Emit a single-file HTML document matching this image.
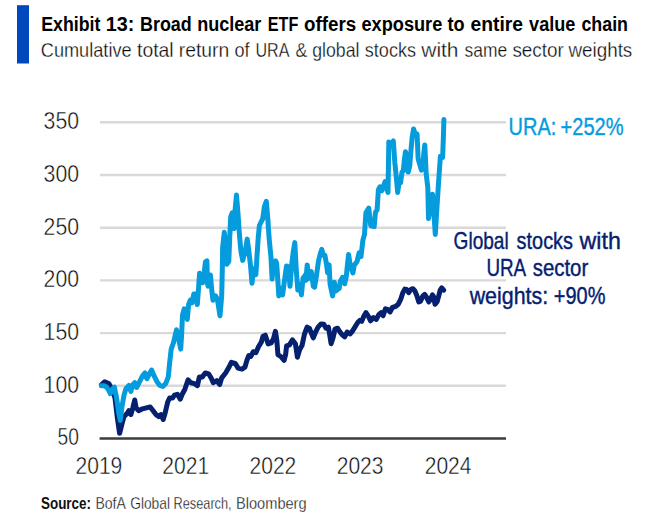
<!DOCTYPE html>
<html><head><meta charset="utf-8"><title>Exhibit 13</title>
<style>html,body{margin:0;padding:0;background:#fff;}body{width:650px;height:516px;position:relative;overflow:hidden;font-family:"Liberation Sans",sans-serif;}</style></head>
<body>
<svg width="650" height="516" viewBox="0 0 650 516" style="position:absolute;left:0;top:0;font-family:'Liberation Sans',sans-serif">
<rect x="17" y="5.2" width="12" height="58.3" fill="#0048be"/>
<text x="41.2" y="30.7" font-size="19.5" font-weight="bold" fill="#000" textLength="59.2" lengthAdjust="spacingAndGlyphs">Exhibit</text>
<text x="105.8" y="30.7" font-size="19.5" font-weight="bold" fill="#000" textLength="28.6" lengthAdjust="spacingAndGlyphs">13:</text>
<text x="140" y="30.7" font-size="19.5" font-weight="bold" fill="#000" textLength="51.8" lengthAdjust="spacingAndGlyphs">Broad</text>
<text x="197.2" y="30.7" font-size="19.5" font-weight="bold" fill="#000" textLength="64.2" lengthAdjust="spacingAndGlyphs">nuclear</text>
<text x="267.7" y="30.7" font-size="19.5" font-weight="bold" fill="#000" textLength="30.6" lengthAdjust="spacingAndGlyphs">ETF</text>
<text x="304" y="30.7" font-size="19.5" font-weight="bold" fill="#000" textLength="52.2" lengthAdjust="spacingAndGlyphs">offers</text>
<text x="361.5" y="30.7" font-size="19.5" font-weight="bold" fill="#000" textLength="80.8" lengthAdjust="spacingAndGlyphs">exposure</text>
<text x="447.5" y="30.7" font-size="19.5" font-weight="bold" fill="#000" textLength="17.1" lengthAdjust="spacingAndGlyphs">to</text>
<text x="470.6" y="30.7" font-size="19.5" font-weight="bold" fill="#000" textLength="52.5" lengthAdjust="spacingAndGlyphs">entire</text>
<text x="529.1" y="30.7" font-size="19.5" font-weight="bold" fill="#000" textLength="46.3" lengthAdjust="spacingAndGlyphs">value</text>
<text x="581.4" y="30.7" font-size="19.5" font-weight="bold" fill="#000" textLength="46.6" lengthAdjust="spacingAndGlyphs">chain</text>
<text x="40.8" y="57" font-size="19.8" fill="#0a0a0a" stroke="#fff" stroke-width="0.3" textLength="90.8" lengthAdjust="spacingAndGlyphs">Cumulative</text>
<text x="137" y="57" font-size="19.8" fill="#0a0a0a" stroke="#fff" stroke-width="0.3" textLength="36.6" lengthAdjust="spacingAndGlyphs">total</text>
<text x="178.8" y="57" font-size="19.8" fill="#0a0a0a" stroke="#fff" stroke-width="0.3" textLength="50.5" lengthAdjust="spacingAndGlyphs">return</text>
<text x="234.5" y="57" font-size="19.8" fill="#0a0a0a" stroke="#fff" stroke-width="0.3" textLength="15.1" lengthAdjust="spacingAndGlyphs">of</text>
<text x="255.4" y="57" font-size="19.8" fill="#0a0a0a" stroke="#fff" stroke-width="0.3" textLength="34.0" lengthAdjust="spacingAndGlyphs">URA</text>
<text x="295.4" y="57" font-size="19.8" fill="#0a0a0a" stroke="#fff" stroke-width="0.3" textLength="11.8" lengthAdjust="spacingAndGlyphs">&amp;</text>
<text x="312.3" y="57" font-size="19.8" fill="#0a0a0a" stroke="#fff" stroke-width="0.3" textLength="47.1" lengthAdjust="spacingAndGlyphs">global</text>
<text x="364.8" y="57" font-size="19.8" fill="#0a0a0a" stroke="#fff" stroke-width="0.3" textLength="51.2" lengthAdjust="spacingAndGlyphs">stocks</text>
<text x="421.3" y="57" font-size="19.8" fill="#0a0a0a" stroke="#fff" stroke-width="0.3" textLength="37.2" lengthAdjust="spacingAndGlyphs">with</text>
<text x="464.5" y="57" font-size="19.8" fill="#0a0a0a" stroke="#fff" stroke-width="0.3" textLength="42.6" lengthAdjust="spacingAndGlyphs">same</text>
<text x="512.4" y="57" font-size="19.8" fill="#0a0a0a" stroke="#fff" stroke-width="0.3" textLength="51.4" lengthAdjust="spacingAndGlyphs">sector</text>
<text x="568.4" y="57" font-size="19.8" fill="#0a0a0a" stroke="#fff" stroke-width="0.3" textLength="63.9" lengthAdjust="spacingAndGlyphs">weights</text>
<line x1="100" x2="506" y1="122.3" y2="122.3" stroke="#d9d9d9" stroke-width="2.4"/>
<line x1="100" x2="506" y1="175" y2="175" stroke="#d9d9d9" stroke-width="2.4"/>
<line x1="100" x2="506" y1="227.7" y2="227.7" stroke="#d9d9d9" stroke-width="2.4"/>
<line x1="100" x2="506" y1="280.4" y2="280.4" stroke="#d9d9d9" stroke-width="2.4"/>
<line x1="100" x2="506" y1="333.1" y2="333.1" stroke="#d9d9d9" stroke-width="2.4"/>
<line x1="100" x2="506" y1="385.8" y2="385.8" stroke="#d9d9d9" stroke-width="2.4"/>
<line x1="99.6" x2="506" y1="438.5" y2="438.5" stroke="#3c3c3c" stroke-width="2.6"/>
<text x="43.6" y="129.29999999999998" font-size="24.4" fill="#0a0a0a" stroke="#fff" stroke-width="0.45" textLength="35.4" lengthAdjust="spacingAndGlyphs">350</text>
<text x="43.6" y="182.0" font-size="24.4" fill="#0a0a0a" stroke="#fff" stroke-width="0.45" textLength="35.4" lengthAdjust="spacingAndGlyphs">300</text>
<text x="43.6" y="234.7" font-size="24.4" fill="#0a0a0a" stroke="#fff" stroke-width="0.45" textLength="35.4" lengthAdjust="spacingAndGlyphs">250</text>
<text x="43.6" y="287.4" font-size="24.4" fill="#0a0a0a" stroke="#fff" stroke-width="0.45" textLength="35.4" lengthAdjust="spacingAndGlyphs">200</text>
<text x="43.6" y="340.09999999999997" font-size="24.4" fill="#0a0a0a" stroke="#fff" stroke-width="0.45" textLength="35.4" lengthAdjust="spacingAndGlyphs">150</text>
<text x="43.6" y="392.8" font-size="24.4" fill="#0a0a0a" stroke="#fff" stroke-width="0.45" textLength="35.4" lengthAdjust="spacingAndGlyphs">100</text>
<text x="57.6" y="445.3" font-size="24.4" fill="#0a0a0a" stroke="#fff" stroke-width="0.45" textLength="21.4" lengthAdjust="spacingAndGlyphs">50</text>
<text x="75.5" y="474.4" font-size="23.8" fill="#0a0a0a" stroke="#fff" stroke-width="0.45" textLength="46.8" lengthAdjust="spacingAndGlyphs">2019</text>
<text x="162.29999999999998" y="474.4" font-size="23.8" fill="#0a0a0a" stroke="#fff" stroke-width="0.45" textLength="46.8" lengthAdjust="spacingAndGlyphs">2021</text>
<text x="249.49999999999997" y="474.4" font-size="23.8" fill="#0a0a0a" stroke="#fff" stroke-width="0.45" textLength="46.8" lengthAdjust="spacingAndGlyphs">2022</text>
<text x="336.70000000000005" y="474.4" font-size="23.8" fill="#0a0a0a" stroke="#fff" stroke-width="0.45" textLength="46.8" lengthAdjust="spacingAndGlyphs">2023</text>
<text x="424.70000000000005" y="474.4" font-size="23.8" fill="#0a0a0a" stroke="#fff" stroke-width="0.45" textLength="46.8" lengthAdjust="spacingAndGlyphs">2024</text>
<polyline points="101.4,384.8 104.6,381.9 108.8,383.6 112.0,389.0 115.0,398.0 117.3,417.5 119.6,433.3 122.1,423.3 124.0,416.5 127.0,413.6 128.9,410.7 130.9,414.6 132.8,407.8 134.7,400.0 136.1,407.8 138.6,410.7 142.5,408.8 146.4,407.8 150.2,406.9 153.1,410.7 156.0,414.6 159.0,416.6 161.0,414.6 163.2,419.5 165.2,412.7 167.7,402.0 169.6,398.1 172.5,398.1 174.5,395.2 177.4,394.3 180.3,399.1 182.2,394.3 184.8,389.5 188.1,379.8 190.7,382.7 194.5,383.6 197.4,385.6 199.4,376.9 202.3,376.9 205.2,373.0 208.7,374.0 211.0,377.8 213.3,382.7 216.8,380.7 219.7,384.6 221.7,377.8 225.6,373.0 228.5,368.1 231.4,362.3 235.2,363.3 238.1,368.1 242.0,369.1 244.9,367.2 246.9,360.4 248.8,355.5 250.7,356.5 253.3,351.7 256.0,352.6 258.5,346.8 261.4,342.0 263.0,336.2 265.3,335.2 268.2,343.9 271.1,342.9 273.4,339.1 275.4,331.3 276.9,341.0 277.9,354.6 280.8,356.5 284.1,360.4 285.6,354.6 286.6,345.9 289.5,344.9 292.5,339.9 295.4,343.7 297.4,357.2 299.7,349.5 302.0,345.6 304.5,334.0 307.1,327.2 309.4,328.2 311.3,333.0 313.3,337.9 315.6,332.0 318.1,327.2 321.0,323.9 323.9,324.3 325.9,328.2 328.4,327.2 329.7,334.9 331.1,343.7 333.0,337.9 335.0,329.1 337.5,328.2 340.0,332.0 342.3,334.9 344.7,336.9 347.2,332.0 350.1,334.0 352.4,331.1 354.9,327.2 357.9,322.3 359.8,320.4 361.7,321.4 363.7,316.5 366.0,312.6 368.5,316.5 370.5,320.8 373.4,317.5 376.3,319.4 378.8,314.6 381.1,312.6 383.1,315.6 385.4,308.8 387.9,309.7 390.1,311.9 392.4,307.3 395.5,306.5 398.3,304.2 400.9,298.8 402.9,292.6 404.8,289.1 406.7,289.5 408.7,292.6 410.7,289.5 412.9,288.7 414.9,291.0 416.9,295.7 418.8,301.9 420.6,301.1 422.6,296.4 424.7,294.4 426.5,297.2 428.8,301.9 430.4,299.5 432.4,294.9 433.5,296.4 435.0,304.2 437.1,301.9 438.6,296.4 440.2,290.2 441.7,287.9 443.6,290.2" fill="none" stroke="#04206f" stroke-width="5" stroke-linejoin="round" stroke-linecap="round"/>
<polyline points="101.4,385.8 104.2,385.8 106.8,387.2 108.8,390.5 110.3,393.6 112.5,388.8 114.4,387.2 116.3,396.2 118.6,411.7 120.2,420.4 122.1,405.9 124.0,395.2 126.0,388.4 128.9,385.5 130.9,391.4 132.8,384.6 134.7,382.6 136.7,387.5 138.6,383.6 142.5,375.9 145.0,372.9 146.9,378.8 149.3,373.9 151.6,370.0 154.1,375.9 157.0,381.7 159.9,385.5 162.8,386.5 165.7,383.6 168.3,376.8 169.6,363.3 171.2,349.1 173.6,342.4 176.5,329.8 178.4,337.5 180.7,349.1 181.6,335.0 182.5,315.0 184.2,308.9 186.8,309.8 187.3,319.4 188.6,304.6 190.3,300.2 192.1,302.8 193.8,294.1 196.1,294.1 197.3,304.6 198.5,288.9 199.6,273.2 201.6,276.6 202.5,282.8 204.3,271.4 205.5,261.8 206.9,260.9 207.4,283.6 208.1,286.2 209.5,274.9 210.4,274.9 211.8,290.6 213.0,300.2 215.6,295.8 217.4,299.3 220.0,315.9 221.7,295.8 222.3,270.0 222.6,247.8 224.3,232.3 225.9,245.9 226.8,264.3 228.8,261.4 229.7,238.1 230.7,216.8 232.2,212.9 234.2,228.4 235.0,211.0 236.5,195.1 238.1,214.9 239.4,234.3 241.0,251.7 242.7,260.4 245.2,251.7 247.2,239.1 248.7,249.8 250.5,265.3 252.0,283.3 253.6,268.8 255.9,274.6 256.9,257.5 258.2,238.1 259.4,225.5 261.3,221.7 262.7,218.8 264.4,206.5 266.3,201.3 267.8,218.8 269.1,238.1 271.0,257.5 272.1,279.0 273.3,262.9 275.5,261.0 276.6,263.0 277.8,280.0 278.8,295.9 280.3,288.1 282.6,294.9 285.0,276.5 286.5,265.9 288.4,266.8 290.0,286.2 291.9,262.9 293.3,251.3 294.8,242.6 296.2,268.8 297.8,290.1 299.7,284.3 301.4,294.9 303.0,278.4 304.9,275.5 305.9,280.4 307.2,264.9 308.8,278.4 311.3,271.7 313.3,286.2 314.6,287.2 316.6,274.6 318.5,261.0 320.4,253.3 321.8,249.4 323.3,255.2 324.9,255.2 326.6,264.9 327.6,272.6 329.1,264.9 330.1,284.3 332.6,295.9 334.4,282.3 335.7,291.0 337.6,289.5 339.2,288.5 340.3,281.5 342.5,277.3 344.7,283.8 346.3,276.5 347.5,264.1 348.6,254.6 350.3,265.3 352.9,273.0 354.2,265.3 357.1,261.4 359.1,252.7 361.0,256.6 362.9,240.1 364.5,234.3 365.9,212.9 368.8,208.1 370.7,225.5 374.2,226.5 375.5,212.0 377.1,210.0 378.4,189.7 380.0,186.8 381.9,190.7 383.9,185.0 385.1,181.7 386.5,187.5 388.0,192.4 388.4,168.1 388.8,142.0 390.9,143.9 393.3,141.0 394.8,162.3 396.2,175.9 397.7,192.4 399.1,181.7 400.6,182.7 402.0,172.0 403.3,171.0 404.5,158.4 405.5,151.7 406.8,155.5 408.2,172.0 409.7,166.2 411.1,148.8 412.2,137.1 413.6,129.0 415.5,135.2 417.1,134.2 418.1,158.4 419.4,163.3 421.4,170.1 422.7,168.1 423.7,154.6 424.8,144.9 426.2,174.0 427.8,187.5 428.5,218.6 430.5,205.0 432.5,194.2 433.9,213.2 435.3,234.4 436.6,213.2 438.5,183.3 440.4,156.2 442.6,157.5 443.4,137.2 443.9,119.5" fill="none" stroke="#059cdd" stroke-width="5" stroke-linejoin="round" stroke-linecap="round"/>
<text x="508.6" y="134.8" font-size="24.5" fill="#059cdd" stroke="#059cdd" stroke-width="0.4" textLength="47.7" lengthAdjust="spacingAndGlyphs">URA:</text>
<text x="560.5" y="134.8" font-size="24.5" fill="#059cdd" stroke="#059cdd" stroke-width="0.4" textLength="63.1" lengthAdjust="spacingAndGlyphs">+252%</text>
<text x="453.6" y="249.4" font-size="24" fill="#04206f" stroke="#04206f" stroke-width="0.4" textLength="55.1" lengthAdjust="spacingAndGlyphs">Global</text>
<text x="516.6" y="249.4" font-size="24" fill="#04206f" stroke="#04206f" stroke-width="0.4" textLength="56.4" lengthAdjust="spacingAndGlyphs">stocks</text>
<text x="579.5" y="249.4" font-size="24" fill="#04206f" stroke="#04206f" stroke-width="0.4" textLength="41.3" lengthAdjust="spacingAndGlyphs">with</text>
<text x="486.4" y="276.4" font-size="24" fill="#04206f" stroke="#04206f" stroke-width="0.4" textLength="39.8" lengthAdjust="spacingAndGlyphs">URA</text>
<text x="532.7" y="276.4" font-size="24" fill="#04206f" stroke="#04206f" stroke-width="0.4" textLength="55.5" lengthAdjust="spacingAndGlyphs">sector</text>
<text x="469.7" y="303.5" font-size="24" fill="#04206f" stroke="#04206f" stroke-width="0.4" textLength="78.4" lengthAdjust="spacingAndGlyphs">weights:</text>
<text x="553.8" y="303.5" font-size="24" fill="#04206f" stroke="#04206f" stroke-width="0.4" textLength="51.6" lengthAdjust="spacingAndGlyphs">+90%</text>
<text x="41" y="508.6" font-size="17" font-weight="bold" fill="#111" textLength="50" lengthAdjust="spacingAndGlyphs">Source:</text>
<text x="95.4" y="508.6" font-size="17" fill="#111" stroke="#fff" stroke-width="0.3" textLength="30.4" lengthAdjust="spacingAndGlyphs">BofA</text>
<text x="130.2" y="508.6" font-size="17" fill="#111" stroke="#fff" stroke-width="0.3" textLength="39.8" lengthAdjust="spacingAndGlyphs">Global</text>
<text x="173.6" y="508.6" font-size="17" fill="#111" stroke="#fff" stroke-width="0.3" textLength="58.0" lengthAdjust="spacingAndGlyphs">Research,</text>
<text x="236" y="508.6" font-size="17" fill="#111" stroke="#fff" stroke-width="0.3" textLength="70.6" lengthAdjust="spacingAndGlyphs">Bloomberg</text>
</svg>
</body></html>
